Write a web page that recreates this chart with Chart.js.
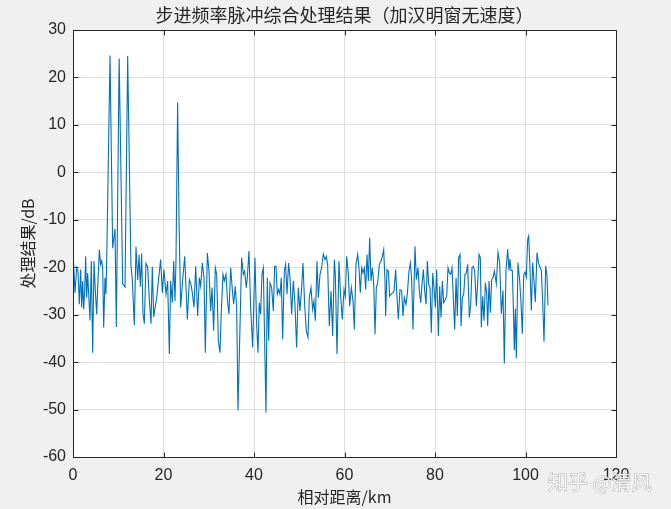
<!DOCTYPE html>
<html>
<head>
<meta charset="utf-8">
<script src="https://cdn.jsdelivr.net/npm/chart.js"></script>
<style>
html, body { margin: 0; padding: 0; background: #f0f0f0; }
#wrap { width: 671px; height: 509px; }
</style>
</head>
<body>
<div id="wrap"><canvas id="mycanvas" width="671" height="509"></canvas></div>
<script>
var chartTitle = '步进频率脉冲综合处理结果（加汉明窗无速度）';
var xTitle = '相对距离/km';
var yTitle = '处理结果/dB';
var watermark = '知乎 @清风';

var xTicks = [0, 20, 40, 60, 80, 100, 120];
var yTicks = [-60, -50, -40, -30, -20, -10, 0, 10, 20, 30];

// km
var distKm = [
	0.07,0.44,0.81,1.10,1.40,1.69,1.92,2.14,2.36,2.58,
	2.80,3.02,3.24,3.54,3.76,4.05,4.35,4.64,4.94,5.23,
	5.52,5.82,6.11,6.33,6.56,6.78,7.07,7.29,7.51,8.18,
	8.77,9.28,9.58,10.20,10.98,11.50,12.08,12.80,13.11,13.55,
	13.92,14.29,14.59,14.88,15.17,15.47,15.76,16.13,16.50,16.87,
	17.24,17.53,17.83,18.49,19.37,19.74,20.10,20.55,20.92,21.29,
	21.58,21.95,22.25,22.54,22.76,23.12,23.45,23.79,24.16,24.68,
	25.27,25.71,26.08,26.37,26.74,27.11,27.55,27.92,28.21,28.58,
	28.95,29.24,29.69,30.05,30.42,30.72,31.08,31.45,31.75,32.12,
	32.48,32.78,33.15,33.44,33.81,34.18,34.47,34.84,35.21,35.50,
	35.87,36.17,36.46,36.83,37.27,37.64,37.93,38.30,38.52,38.89,
	39.26,39.70,40.21,40.58,40.88,41.17,41.47,41.76,42.06,42.35,
	42.65,42.94,43.24,43.53,43.90,44.27,44.56,44.86,45.15,45.45,
	45.74,46.03,46.33,46.70,46.99,47.29,47.65,47.95,48.32,48.69,
	49.05,49.42,49.79,50.16,50.53,50.82,51.19,51.56,51.93,52.22,
	52.59,52.96,53.25,53.55,53.92,54.21,54.58,54.95,55.32,55.68,
	55.98,56.27,56.64,57.02,57.38,57.75,57.97,58.34,58.78,59.08,
	59.52,59.89,60.18,60.48,60.85,61.14,61.51,61.88,62.17,62.54,
	62.91,63.20,63.50,63.79,64.09,64.38,64.68,64.97,65.27,65.56,
	65.86,66.15,66.45,66.74,67.03,67.33,67.70,68.07,68.36,68.66,
	68.95,69.10,69.39,69.69,69.98,70.28,70.64,70.94,71.31,71.60,
	71.90,72.26,72.63,72.93,73.22,73.59,73.88,74.25,74.55,74.84,
	75.14,75.58,75.88,76.25,76.54,76.84,77.13,77.43,77.72,78.02,
	78.31,78.61,78.90,79.19,79.49,79.78,80.08,80.37,80.74,81.04,
	81.33,81.63,81.92,82.29,82.58,82.88,83.17,83.47,83.76,84.06,
	84.35,84.65,84.94,85.23,85.53,85.75,86.05,86.34,86.63,86.93,
	87.22,87.59,87.89,88.18,88.48,88.77,89.14,89.43,89.73,90.02,
	90.24,90.54,90.83,91.13,91.42,91.64,91.94,92.23,92.53,92.82,
	93.12,93.55,93.92,94.29,94.66,95.03,95.32,95.69,96.06,96.35,
	96.57,96.80,97.09,97.31,97.53,97.75,97.97,98.34,98.71,99.00,
	99.30,99.60,99.89,100.18,100.48,100.70,100.99,101.29,101.58,101.88,
	102.17,102.54,102.84,103.20,103.50,103.79,104.09,104.46,104.75,104.97
];

// dB, same order
var levelDb = [
	-18.0,-25.4,-20.1,-20.8,-27.8,-20.5,-28.5,-22.9,-28.9,-25.0,
	-17.7,-26.4,-21.2,-27.1,-31.2,-18.7,-38.0,-18.7,-25.0,-29.9,
	-22.9,-16.3,-19.4,-18.7,-20.1,-32.7,-22.2,-25.7,-15.2,24.6,
	-16.0,-11.9,-32.6,24.0,-23.5,-24.2,24.5,-19.5,-22.7,-32.2,
	-15.7,-22.7,-17.4,-24.1,-17.1,-29.8,-31.9,-19.2,-19.9,-26.9,
	-31.9,-19.9,-30.5,-26.4,-18.4,-25.4,-20.5,-25.7,-22.9,-38.3,
	-22.9,-27.5,-18.7,-27.1,-18.7,14.7,-11.0,-28.5,-23.6,-17.7,
	-31.0,-22.6,-23.6,-25.4,-28.5,-19.8,-30.3,-22.2,-24.0,-19.1,
	-22.2,-38.0,-17.0,-20.8,-29.2,-24.3,-33.4,-20.1,-21.5,-35.5,
	-38.0,-29.2,-21.5,-22.9,-21.5,-27.5,-29.9,-20.1,-24.7,-27.8,
	-24.0,-28.5,-50.2,-35.5,-18.0,-21.5,-20.8,-24.3,-22.2,-16.6,
	-28.5,-36.9,-18.0,-32.0,-38.0,-27.5,-29.9,-21.5,-20.1,-35.5,
	-50.6,-22.2,-35.5,-23.3,-24.3,-29.2,-19.8,-19.8,-25.7,-24.7,
	-25.7,-22.2,-35.2,-20.8,-19.4,-25.7,-19.1,-22.2,-29.9,-22.9,
	-27.8,-36.9,-24.3,-29.2,-24.3,-19.1,-27.8,-33.4,-34.8,-26.4,
	-24.3,-28.9,-27.1,-31.3,-18.7,-26.4,-21.5,-20.1,-17.2,-18.4,
	-17.7,-19.4,-32.4,-25.0,-34.5,-18.4,-21.5,-38.3,-18.7,-25.0,
	-31.0,-24.7,-26.1,-17.7,-21.5,-28.2,-24.3,-27.1,-33.1,-19.4,
	-17.3,-20.1,-25.4,-20.1,-21.2,-20.1,-24.7,-17.3,-22.9,-13.8,
	-22.9,-20.1,-23.3,-34.1,-24.3,-23.3,-19.4,-18.7,-17.7,-16.3,
	-22.9,-30.3,-20.5,-20.8,-26.1,-25.7,-25.4,-25.0,-20.5,-26.4,
	-31.0,-24.7,-25.0,-30.3,-26.4,-27.8,-25.7,-20.8,-19.1,-22.6,
	-33.1,-15.6,-22.6,-20.1,-25.0,-27.5,-23.6,-20.5,-25.0,-27.8,
	-18.7,-23.6,-24.3,-33.8,-21.2,-24.3,-28.5,-20.5,-34.5,-24.0,
	-30.6,-22.9,-27.5,-26.8,-26.1,-20.1,-21.2,-21.5,-20.1,-26.8,
	-33.1,-22.2,-30.3,-18.0,-17.3,-32.4,-26.4,-25.7,-21.5,-21.2,
	-19.4,-30.6,-27.8,-20.1,-19.8,-20.8,-28.2,-23.3,-17.3,-18.0,
	-32.7,-26.1,-31.3,-23.3,-25.4,-32.4,-22.9,-29.6,-22.6,-22.2,
	-20.8,-23.5,-16.9,-19.0,-29.8,-24.9,-40.3,-20.7,-16.2,-20.7,
	-18.3,-20.7,-20.7,-28.4,-37.5,-28.7,-39.2,-19.0,-22.8,-27.3,
	-34.0,-21.7,-21.0,-22.1,-14.1,-13.4,-20.3,-29.1,-19.0,-22.8,
	-27.3,-16.9,-19.0,-20.0,-20.7,-27.0,-35.7,-19.7,-21.7,-28.0
];

var punkty = [];
for (var i = 0; i < distKm.length; i++) {
	punkty.push({x: distKm[i], y: levelDb[i]});
}

var osie = '#262626';
var siatka = '#dfdfdf';
var cyfry = '"Liberation Sans", Arial, sans-serif';
var hanzi = '"Noto Sans CJK SC", "Liberation Sans", sans-serif';

// white plot area, box round it, inner tick marks, watermark
var ramka = {
	id: 'ramka',
	beforeDraw: function(chart) {
		var c = chart.ctx, a = chart.chartArea;
		c.save();
		c.fillStyle = '#ffffff';
		c.fillRect(a.left, a.top, a.right - a.left, a.bottom - a.top);
		c.restore();
	},
	afterDraw: function(chart) {
		var ctx = chart.ctx;
		var a = chart.chartArea;
		var sx = chart.scales.x, sy = chart.scales.y;
		var L = Math.round(a.left) + 0.5, R = Math.round(a.right) + 0.5;
		var T = Math.round(a.top) + 0.5, B = Math.round(a.bottom) + 0.5;
		ctx.save();
		ctx.strokeStyle = osie;
		ctx.lineWidth = 1;
		ctx.beginPath();
		ctx.rect(L, T, R - L, B - T);
		xTicks.forEach(function(v) {
			var p = Math.round(sx.getPixelForValue(v)) + 0.5;
			ctx.moveTo(p, B); ctx.lineTo(p, B - 5);
			ctx.moveTo(p, T); ctx.lineTo(p, T + 5);
		});
		yTicks.forEach(function(v) {
			var p = Math.round(sy.getPixelForValue(v)) + 0.5;
			ctx.moveTo(L, p); ctx.lineTo(L + 5, p);
			ctx.moveTo(R, p); ctx.lineTo(R - 5, p);
		});
		ctx.stroke();

		ctx.font = '20px ' + hanzi;
		ctx.textAlign = 'left';
		ctx.textBaseline = 'middle';
		ctx.lineWidth = 1;
		ctx.strokeStyle = 'rgba(140,140,140,0.6)';
		ctx.fillStyle = 'rgba(255,255,255,0.85)';
		ctx.strokeText(watermark, 548, 482);
		ctx.fillText(watermark, 548, 482);
		ctx.restore();
	}
};

var ctx = document.getElementById('mycanvas');

var lineGraph = new Chart(ctx, {
	type: 'line',
	data: {
		datasets: [{
			data: punkty,
			borderColor: '#0072BD',
			borderWidth: 1.1,
			pointRadius: 0,
			tension: 0,
			fill: false
		}]
	},
	options: {
		responsive: false,
		animation: false,
		layout: { padding: { left: 0, right: 55, top: 0, bottom: 0 } },
		plugins: {
			legend: { display: false },
			tooltip: { enabled: false },
			title: {
				display: true,
				text: chartTitle,
				fullSize: false,
				color: osie,
				font: { family: hanzi, size: 18, weight: 'normal' },
				padding: { top: 4, bottom: 4.4 }
			}
		},
		scales: {
			x: {
				type: 'linear',
				min: 0,
				max: 120,
				afterFit: function(s) { s.height = 52; },
				ticks: { stepSize: 20, color: osie, padding: 9, font: { family: cyfry, size: 16 } },
				grid: { color: siatka, drawTicks: false },
				border: { color: osie },
				title: { display: true, text: xTitle, color: osie, font: { family: hanzi, size: 16 }, padding: { top: 0, bottom: 2 } }
			},
			y: {
				min: -60,
				max: 30,
				afterFit: function(s) { s.width = 73; },
				ticks: { stepSize: 10, color: osie, padding: 7, font: { family: cyfry, size: 16 } },
				grid: { color: siatka, drawTicks: false },
				border: { color: osie },
				title: { display: true, text: yTitle, color: osie, font: { family: hanzi, size: 16 }, padding: { top: 18, bottom: 0 } }
			}
		}
	},
	plugins: [ramka]
});
</script>
</body>
</html>
